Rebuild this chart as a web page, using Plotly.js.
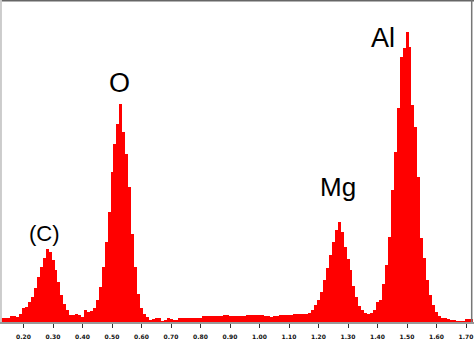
<!DOCTYPE html>
<html><head><meta charset="utf-8">
<script src="https://cdn.plot.ly/plotly-3.0.1.min.js"></script>
<style>html,body{margin:0;padding:0;background:#fff;}#chart{width:474px;height:351px;}</style>
</head><body><div id="chart"></div>
<script>
const energy = [0.12,0.13,0.14,0.15,0.16,0.17,0.18,0.19,0.20,0.21,0.22,0.23,0.24,0.25,0.26,0.27,0.28,0.29,0.30,0.31,0.32,0.33,0.34,0.35,0.36,0.37,0.38,0.39,0.40,0.41,0.42,0.43,0.44,0.45,0.46,0.47,0.48,0.49,0.50,0.51,0.52,0.53,0.54,0.55,0.56,0.57,0.58,0.59,0.60,0.61,0.62,0.63,0.64,0.65,0.66,0.67,0.68,0.69,0.70,0.71,0.72,0.73,0.74,0.75,0.76,0.77,0.78,0.79,0.80,0.81,0.82,0.83,0.84,0.85,0.86,0.87,0.88,0.89,0.90,0.91,0.92,0.93,0.94,0.95,0.96,0.97,0.98,0.99,1.00,1.01,1.02,1.03,1.04,1.05,1.06,1.07,1.08,1.09,1.10,1.11,1.12,1.13,1.14,1.15,1.16,1.17,1.18,1.19,1.20,1.21,1.22,1.23,1.24,1.25,1.26,1.27,1.28,1.29,1.30,1.31,1.32,1.33,1.34,1.35,1.36,1.37,1.38,1.39,1.40,1.41,1.42,1.43,1.44,1.45,1.46,1.47,1.48,1.49,1.50,1.51,1.52,1.53,1.54,1.55,1.56,1.57,1.58,1.59,1.60,1.61,1.62,1.63,1.64,1.65,1.66,1.67,1.68,1.69,1.70,1.71,1.72];
const counts = [4,4,4,4.5,6.5,6.5,5.5,8,14,15,20,25,34,45,55,64,73,70,62,52,40,27,18,12,7,7,8,7,5.5,12,10,11,14,22,35,55,80,110,150,178,198,218,190,168,135,88,55,28,14,8,5,2,3,4,4,1,2,4,3,2,2,4.5,4.5,4,4,4.5,4.5,4,4,6,6,6.5,6,6,6,6,7,7,6,6,6.5,6.5,6,6,7,7,7.5,7.5,7.5,7.5,6,6,5,6,6,7,7,7,7.5,7.5,8.5,8.5,8.5,8,8,9,12,17,22,30,42,54,67,80,92,100,90,75,63,52,36,25,16,12,9,8,9,12,20,22,38,57,85,132,170,214,265,274,290,275,217,195,145,84,64,42,27,17,10,6,4,4,3.5,2,2,1,1,1.5,3,3,3];
const peakLabels = ["(C)","O","Mg","Al"];
const peakX = [0.2695,0.5237,1.266,1.4186];
const peakY = [89,239,135,284];
const peakSize = [22,27,26,27];

const trace = {type:'bar', x:energy, y:counts, width:0.0101,
  marker:{color:'#ff0000', line:{width:0}}, hoverinfo:'skip'};

const annotations = peakLabels.map((t,i)=>({x:peakX[i], y:peakY[i], xref:'x', yref:'y', text:t,
  showarrow:false, font:{family:'Liberation Sans, Arial, sans-serif', size:peakSize[i], color:'#000'}}));

const layout = {
  width:474, height:351,
  margin:{l:0, r:0, t:0, b:29, pad:0},
  paper_bgcolor:'#fff', plot_bgcolor:'#fff',
  showlegend:false, bargap:0,
  xaxis:{range:[0.1203,1.7271], dtick:0.1, tick0:0, tickformat:'.2f',
    ticks:'outside', ticklen:4, tickcolor:'#333', tickwidth:1, ticklabelstandoff:4,
    showline:true, linecolor:'#999', linewidth:1.5, showgrid:false, zeroline:false,
    tickfont:{family:'DejaVu Sans, sans-serif', size:6, color:'#111', weight:'bold'}},
  yaxis:{range:[0,322], visible:false, showgrid:false, zeroline:false, fixedrange:true},
  annotations:annotations,
  shapes:[
    {type:'line', xref:'paper', yref:'paper', x0:0, x1:1, y0:1, y1:1, line:{color:'#666', width:3}},
    {type:'line', xref:'paper', yref:'paper', x0:0.002, x1:0.002, y0:0, y1:1, line:{color:'#ccc', width:2}},
    {type:'line', xref:'paper', yref:'paper', x0:471.7/474, x1:471.7/474, y0:0, y1:1, line:{color:'#777', width:1.5}}
  ]
};
Plotly.newPlot('chart',[trace],layout,{displayModeBar:false, staticPlot:true});
</script></body></html>
